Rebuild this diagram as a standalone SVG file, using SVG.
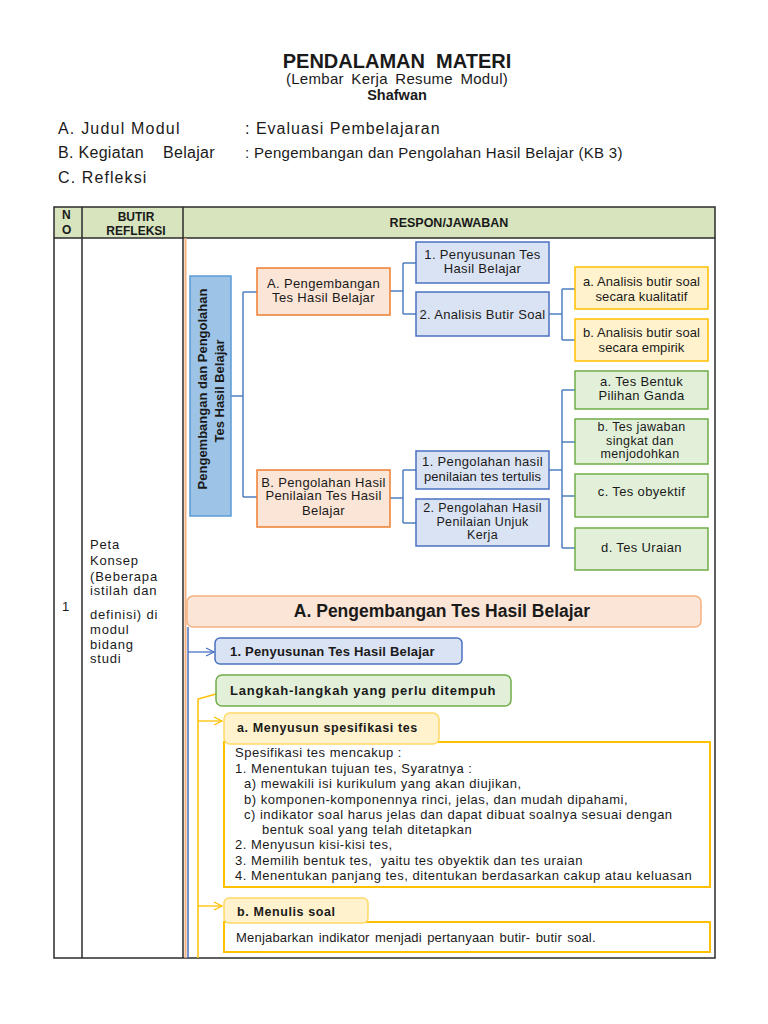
<svg xmlns="http://www.w3.org/2000/svg" width="768" height="1024" viewBox="0 0 768 1024">
<defs>
<style>
text{font-family:"Liberation Sans",Arial,Helvetica,sans-serif;fill:#1a1a1a}
.b{font-weight:bold}
.c{text-anchor:middle}
.s13{font-size:13px}
.m{font-size:13px;letter-spacing:0.35px}
.m0{font-size:13px;letter-spacing:0.1px}
.m2{font-size:12.5px;letter-spacing:0.35px}
.p{font-size:13px;letter-spacing:0.5px}
.l{font-size:13px;letter-spacing:0.8px}
.tbl{stroke:#2b2b2b;stroke-width:1.5;fill:none}
.con{stroke:#4f7fbf;stroke-width:1.5;fill:none}
.org{fill:#fbe5d6;stroke:#ed7d31;stroke-width:1.5}
.blu{fill:#dae3f3;stroke:#4a72c0;stroke-width:1.5}
.yel{fill:#fff2cc;stroke:#ffc000;stroke-width:1.5}
.grn{fill:#e2f0d9;stroke:#70ad47;stroke-width:1.5}
</style>
<marker id="ab" markerUnits="userSpaceOnUse" markerWidth="12" markerHeight="12" refX="9" refY="5" orient="auto"><path d="M1,1 L9,5 L1,9" fill="none" stroke="#4a72c0" stroke-width="1.3"/></marker>
<marker id="ay" markerUnits="userSpaceOnUse" markerWidth="12" markerHeight="12" refX="9" refY="5" orient="auto"><path d="M1,1 L9,5 L1,9" fill="none" stroke="#ffc000" stroke-width="1.3"/></marker>
</defs>
<rect width="768" height="1024" fill="#ffffff"/>

<g id="header">
<text x="397" y="68" class="b c" font-size="20" xml:space="preserve">PENDALAMAN  MATERI</text>
<text x="397" y="84" class="c" font-size="15" word-spacing="3" letter-spacing="0.3">(Lembar Kerja Resume Modul)</text>
<text x="397" y="100" class="b c" font-size="14.5">Shafwan</text>
<text x="58" y="134" font-size="16" letter-spacing="1.2">A. Judul Modul</text>
<text x="245" y="134" font-size="16" letter-spacing="1">: Evaluasi Pembelajaran</text>
<text x="58" y="158" font-size="16" letter-spacing="0.3" xml:space="preserve">B. Kegiatan    Belajar</text>
<text x="245" y="158" font-size="15" letter-spacing="0.3">: Pengembangan dan Pengolahan Hasil Belajar (KB 3)</text>
<text x="58" y="183" font-size="16" letter-spacing="1.1">C. Refleksi</text>
</g>

<g id="table">
<rect x="54" y="207" width="661" height="31" fill="#d7e4bd"/>
<rect x="54" y="207" width="661" height="751" class="tbl"/>
<line x1="54" y1="238" x2="715" y2="238" class="tbl"/>
<line x1="82" y1="207" x2="82" y2="958" class="tbl"/>
<line x1="183" y1="207" x2="183" y2="958" class="tbl"/>
<line x1="185.5" y1="238" x2="185.5" y2="958" stroke="#f4b183" stroke-width="2"/>
<text x="62" y="219" class="b" font-size="12">N</text>
<text x="62" y="234" class="b" font-size="12">O</text>
<text x="136" y="221" class="b c" font-size="12">BUTIR</text>
<text x="136" y="235" class="b c" font-size="12">REFLEKSI</text>
<text x="449" y="227" class="b c" font-size="12.5">RESPON/JAWABAN</text>
<text x="62" y="611" class="s13">1</text>
<text x="90" y="549" class="l">Peta</text>
<text x="90" y="565" class="l">Konsep</text>
<text x="90" y="581" class="l">(Beberapa</text>
<text x="90" y="595" class="l">istilah dan</text>
<text x="90" y="619" class="l">definisi) di</text>
<text x="90" y="634" class="l">modul</text>
<text x="90" y="649" class="l">bidang</text>
<text x="90" y="663" class="l">studi</text>
</g>

<g id="connectors">
<path class="con" d="M231,396 H243 M243,292 V497 M243,292 H257 M243,497 H257"/>
<path class="con" d="M390,291 H403 M403,263 V314 M403,263 H416 M403,314 H416"/>
<path class="con" d="M390,498 H403 M403,470 V523 M403,470 H416 M403,523 H416"/>
<path class="con" d="M549,314 H562 M562,289 V340 M562,289 H575 M562,340 H575"/>
<path class="con" d="M549,470 H562 M562,390 V548 M562,390 H575 M562,442 H575 M562,496 H575 M562,548 H575"/>
<line x1="188" y1="627" x2="188" y2="958" stroke="#4a72c0" stroke-width="1.5"/>
<line x1="188" y1="652" x2="214" y2="652" stroke="#4a72c0" stroke-width="1.3" marker-end="url(#ab)"/>
<polyline points="216,694 198,699 198,958" fill="none" stroke="#ffc000" stroke-width="1.5"/>
<line x1="198" y1="721" x2="222" y2="721" stroke="#ffc000" stroke-width="1.3" marker-end="url(#ay)"/>
<line x1="198" y1="906" x2="222" y2="906" stroke="#ffc000" stroke-width="1.3" marker-end="url(#ay)"/>
</g>

<g id="root">
<rect x="190" y="276" width="41" height="240" fill="#9dc3e6" stroke="#5b9bd5" stroke-width="1.5"/>
<g transform="translate(207,389) rotate(-90)"><text x="0" y="0" class="b c s13">Pengembangan dan Pengolahan</text></g>
<g transform="translate(224,391) rotate(-90)"><text x="0" y="0" class="b c s13">Tes Hasil Belajar</text></g>
</g>

<g id="nodeA"><rect x="257" y="268" width="133" height="47" class="org"/>
<text x="323.5" y="288" class="c m">A. Pengembangan</text><text x="323.5" y="302" class="c m">Tes Hasil Belajar</text></g>
<g id="nodeB"><rect x="257" y="470" width="133" height="57" class="org"/>
<text x="323.5" y="487" class="c m">B. Pengolahan Hasil</text><text x="323.5" y="500" class="c m">Penilaian Tes Hasil</text><text x="323.5" y="515" class="c m">Belajar</text></g>

<g id="nodeA1"><rect x="416" y="242" width="133" height="41" class="blu"/>
<text x="482.5" y="259" class="c m">1. Penyusunan Tes</text><text x="482.5" y="273" class="c m">Hasil Belajar</text></g>
<g id="nodeA2"><rect x="416" y="292" width="133" height="44" class="blu"/>
<text x="482.5" y="318.5" class="c m">2. Analisis Butir Soal</text></g>
<g id="nodeB1"><rect x="416" y="451" width="133" height="38" class="blu"/>
<text x="482.5" y="465.5" class="c m">1. Pengolahan hasil</text><text x="482.5" y="480.5" class="c m0">penilaian tes tertulis</text></g>
<g id="nodeB2"><rect x="416" y="499" width="133" height="47" class="blu"/>
<text x="482.5" y="512" class="c m2">2. Pengolahan Hasil</text><text x="482.5" y="525.5" class="c m2">Penilaian Unjuk</text><text x="482.5" y="539" class="c m2">Kerja</text></g>

<g id="nodeA2a"><rect x="575" y="267" width="133" height="42" class="yel"/>
<text x="641.5" y="286" class="c m0">a. Analisis butir soal</text><text x="641.5" y="301" class="c m0">secara kualitatif</text></g>
<g id="nodeA2b"><rect x="575" y="319" width="133" height="42" class="yel"/>
<text x="641.5" y="337" class="c m0">b. Analisis butir soal</text><text x="641.5" y="352" class="c m0">secara empirik</text></g>

<g id="nodeB1a"><rect x="575" y="371" width="133" height="38" class="grn"/>
<text x="641.5" y="386" class="c m">a. Tes Bentuk</text><text x="641.5" y="400" class="c m">Pilihan Ganda</text></g>
<g id="nodeB1b"><rect x="575" y="419" width="133" height="45" class="grn"/>
<text x="641.5" y="431" class="c m2">b. Tes jawaban</text><text x="640" y="444.5" class="c m2">singkat dan</text><text x="640" y="457.5" class="c m2">menjodohkan</text></g>
<g id="nodeB1c"><rect x="575" y="474" width="133" height="43" class="grn"/>
<text x="641.5" y="496" class="c m">c. Tes obyektif</text></g>
<g id="nodeB1d"><rect x="575" y="528" width="133" height="42" class="grn"/>
<text x="641.5" y="551.5" class="c m">d. Tes Uraian</text></g>

<g id="sectionA"><rect x="187" y="596" width="514" height="31" rx="6" fill="#fbe5d6" stroke="#f4b183" stroke-width="1.5"/>
<text x="442" y="617" class="b c" font-size="17.5">A. Pengembangan Tes Hasil Belajar</text></g>
<g id="penyusunan"><rect x="215" y="638" width="247" height="26" rx="5" class="blu"/>
<text x="230" y="655.5" class="b" font-size="13" letter-spacing="0.2">1. Penyusunan Tes Hasil Belajar</text></g>
<g id="langkah"><rect x="216" y="675" width="295" height="31" rx="6" class="grn"/>
<text x="230" y="694.5" class="b" font-size="13" letter-spacing="0.8">Langkah-langkah yang perlu ditempuh</text></g>

<g id="stepA"><rect x="224" y="742" width="486" height="145" fill="#ffffff" stroke="#ffc000" stroke-width="2"/>
<rect x="224" y="713" width="215" height="31" rx="6" fill="#fff2cc" stroke="#ffd966" stroke-width="1.5"/>
<text x="237" y="732" class="b" font-size="12.5" letter-spacing="0.6">a. Menyusun spesifikasi tes</text>
<text x="235" y="757" class="p">Spesifikasi tes mencakup :</text>
<text x="235" y="772.5" class="p">1. Menentukan tujuan tes, Syaratnya :</text>
<text x="244" y="788" class="p">a) mewakili isi kurikulum yang akan diujikan,</text>
<text x="244" y="803.5" class="p">b) komponen-komponennya rinci, jelas, dan mudah dipahami,</text>
<text x="244" y="818.5" class="p">c) indikator soal harus jelas dan dapat dibuat soalnya sesuai dengan</text>
<text x="262" y="834" class="p">bentuk soal yang telah ditetapkan</text>
<text x="235" y="849" class="p">2. Menyusun kisi-kisi tes,</text>
<text x="235" y="864.5" class="p" xml:space="preserve">3. Memilih bentuk tes,  yaitu tes obyektik dan tes uraian</text>
<text x="235" y="880" class="p">4. Menentukan panjang tes, ditentukan berdasarkan cakup atau keluasan</text></g>

<g id="stepB"><rect x="224" y="922" width="486" height="30" fill="#ffffff" stroke="#ffc000" stroke-width="2"/>
<rect x="224" y="898" width="144" height="25" rx="5" fill="#fff2cc" stroke="#ffd966" stroke-width="1.5"/>
<text x="237" y="915.5" class="b" font-size="12.5" letter-spacing="0.6">b. Menulis soal</text>
<text x="236" y="942" font-size="13" word-spacing="1.5" letter-spacing="0.2">Menjabarkan indikator menjadi pertanyaan butir- butir soal.</text></g>
</svg>
